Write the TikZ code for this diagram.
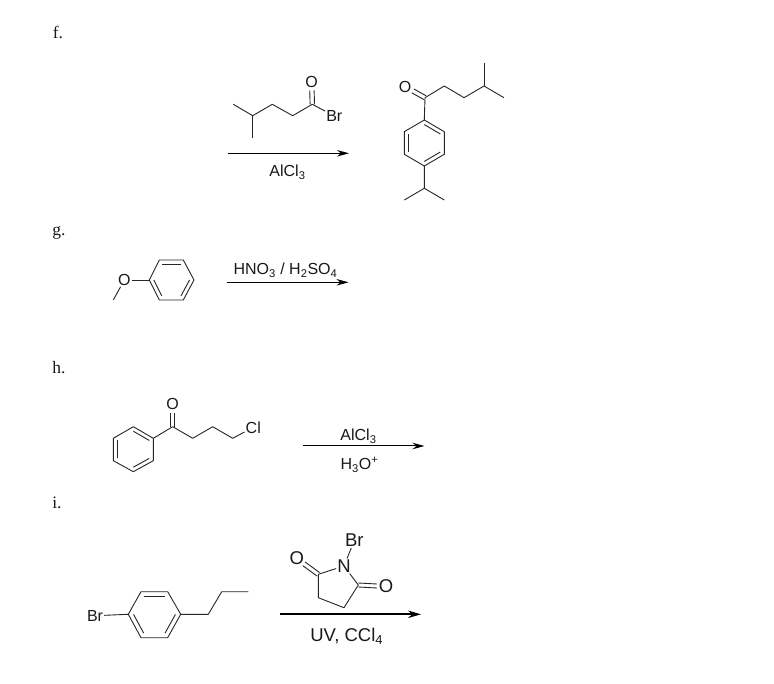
\documentclass[tikz,border=0pt]{standalone}
\usepackage{fontspec}
\setmainfont{Liberation Sans}
\newfontfamily\labelfont{Liberation Serif}
\usetikzlibrary{calc,arrows.meta}
\newcommand{\ringbond}[3]{\draw[bond] ($(#1)!.8!(#2)$) -- ($(#1)!.8!(#3)$);}
% double bond from carbon #1 to oxygen node #2: two strokes offset by #3,#4
\newcommand{\carbonyl}[4]{%
  \draw[bond] ($($(#2.center)!9pt!(#1)$)+(#3,#4)$) -- ($(#1)+(#3,#4)$);
  \draw[bond] ($($(#2.center)!9pt!(#1)$)+(-#3,-#4)$) -- ($(#1)+(-#3,-#4)$);}
\tikzset{
  bond/.style={draw=black!85,line width=0.9pt,line join=round},
  rxn/.style={draw=black,line width=1pt,-{Stealth[length=12pt,width=6.5pt]}},
  rxnbold/.style={draw=black,line width=1.9pt,-{Stealth[length=13pt,width=7.5pt]}},
  atom/.style={inner sep=1pt,font=\fontsize{16}{16}\selectfont,text=black!90},
  atombig/.style={inner sep=1pt,font=\fontsize{18.5}{18.5}\selectfont,text=black!90},
  reagent/.style={inner sep=0pt,font=\fontsize{16}{16}\selectfont,text=black!90},
  reagentbig/.style={inner sep=0pt,font=\fontsize{18.5}{18.5}\selectfont,text=black!90},
  tag/.style={inner sep=0pt,anchor=base,font=\labelfont\fontsize{17.5}{17.5}\selectfont,text=black!90},
}
\begin{document}
\begin{tikzpicture}[x=1pt,y=-1pt]
\path[use as bounding box,fill=white] (0,0) rectangle (774,684);
% labels
\node[tag] (tf) at (58,39) {f.};
\node[tag] (tg) at (59,236) {g.};
\node[tag] (th) at (59,374) {h.};
\node[tag] (ti) at (57,508) {i.};

% --- f reagent
\coordinate (a1) at (233.3,104.3);
\coordinate (a2) at (252.7,115.7);
\coordinate (a3) at (252.7,138.3);
\coordinate (a4) at (272.3,104.3);
\coordinate (a5) at (292.7,115.7);
\coordinate (a6) at (312.3,104.3);
\node[atom] (aO) at (311.7,81.5) {O};
\node[atom] (aBr) at (334.3,116) {Br};
\draw[bond] (a1)--(a2)--(a4)--(a5)--(a6)--(aBr);
\draw[bond] (a2)--(a3);
\carbonyl{a6}{aO}{2.2}{0}
\coordinate (fs) at (228,153.3);
\coordinate (fe) at (349,153.3);
\draw[rxn] (fs) -- (fe);
\node[reagent] (fr) at (287.5,172) {AlCl\textsubscript{3}};

% --- f product
\node[atom] (bO) at (405,86.5) {O};
\coordinate (b1) at (425,97.7);
\coordinate (b2) at (444.3,86);
\coordinate (b3) at (464,97.7);
\coordinate (b4) at (484,86);
\coordinate (b5) at (484,63.3);
\coordinate (b6) at (504,97.7);
\draw[bond] (b1)--(b2)--(b3)--(b4)--(b6);
\draw[bond] (b4)--(b5);
\carbonyl{b1}{bO}{1.1}{-1.9}
\coordinate (r1) at (424.3,120);
\coordinate (r2) at (444.3,131.7);
\coordinate (r3) at (444.3,154.3);
\coordinate (r4) at (424.3,166);
\coordinate (r5) at (404.3,154.3);
\coordinate (r6) at (404.3,131.7);
\coordinate (rc) at (424.3,143);
\draw[bond] (r1)--(r2)--(r3)--(r4)--(r5)--(r6)--cycle;
\ringbond{rc}{r1}{r2}
\ringbond{rc}{r3}{r4}
\ringbond{rc}{r5}{r6}
\draw[bond] (b1)--(r1);
\coordinate (b7) at (424.3,188.3);
\coordinate (b8) at (404.3,200);
\coordinate (b9) at (444.3,200);
\draw[bond] (r4)--(b7)--(b8);
\draw[bond] (b7)--(b9);

% --- g
\node[atom] (gO) at (124.3,280) {O};
\coordinate (g0) at (113.3,300);
\coordinate (s1) at (149.3,280);
\coordinate (s2) at (159.3,260);
\coordinate (s3) at (183.3,260);
\coordinate (s4) at (194,280);
\coordinate (s5) at (183.3,300);
\coordinate (s6) at (159.3,300);
\coordinate (sc) at (171.6,280);
\draw[bond] (s1)--(s2)--(s3)--(s4)--(s5)--(s6)--cycle;
\ringbond{sc}{s2}{s3}
\ringbond{sc}{s4}{s5}
\ringbond{sc}{s6}{s1}
\draw[bond] (gO)--(s1);
\draw[bond] (gO)--(g0);
\coordinate (gs) at (227.3,282.3);
\coordinate (ge) at (348.5,282.3);
\draw[rxn] (gs) -- (ge);
\node[reagent] (gr) at (285.5,270.5) {HNO\textsubscript{3} / H\textsubscript{2}SO\textsubscript{4}};

% --- h
\coordinate (t1) at (133.3,426.7);
\coordinate (t2) at (153.3,438.3);
\coordinate (t3) at (153.3,460.7);
\coordinate (t4) at (133.3,471.7);
\coordinate (t5) at (113.3,460.7);
\coordinate (t6) at (113.3,438.3);
\coordinate (tc) at (133.3,449.2);
\draw[bond] (t1)--(t2)--(t3)--(t4)--(t5)--(t6)--cycle;
\ringbond{tc}{t1}{t2}
\ringbond{tc}{t3}{t4}
\ringbond{tc}{t5}{t6}
\coordinate (h1) at (172.7,426.7);
\coordinate (h2) at (192.7,438.3);
\coordinate (h3) at (212.7,426.7);
\coordinate (h4) at (232.7,438.3);
\node[atom] (hCl) at (253.3,427.3) {Cl};
\node[atom] (hO) at (172.7,404) {O};
\draw[bond] (t2)--(h1)--(h2)--(h3)--(h4)--(hCl);
\carbonyl{h1}{hO}{2.2}{0}
\coordinate (hs) at (303.3,446);
\coordinate (he) at (424.5,446);
\draw[rxn] (hs) -- (he);
\node[reagent] (hr1) at (358.5,436) {AlCl\textsubscript{3}};
\node[reagent] (hr2) at (359.5,464.5) {H\textsubscript{3}O\textsuperscript{+}};

% --- i
\node[atom] (iBr) at (95,615.7) {Br};
\coordinate (u1) at (128.3,614.3);
\coordinate (u2) at (141,591.7);
\coordinate (u3) at (167.7,591.7);
\coordinate (u4) at (180.7,614.3);
\coordinate (u5) at (167.7,637.7);
\coordinate (u6) at (141,637.7);
\coordinate (uc) at (154.5,614.7);
\draw[bond] (u1)--(u2)--(u3)--(u4)--(u5)--(u6)--cycle;
\ringbond{uc}{u2}{u3}
\ringbond{uc}{u4}{u5}
\ringbond{uc}{u6}{u1}
\draw[bond] (iBr)--(u1);
\coordinate (i1) at (208.3,614.3);
\coordinate (i2) at (221.7,591.7);
\coordinate (i3) at (248.3,591.7);
\draw[bond] (u4)--(i1)--(i2)--(i3);
% NBS
\node[atombig] (nBr) at (354.3,540.5) {Br};
\node[atombig] (nN) at (344,566) {N};
\node[atombig] (nO1) at (296.7,558.5) {O};
\node[atombig] (nO2) at (386,586.5) {O};
\coordinate (n1) at (318.3,574.3);
\coordinate (n2) at (318.3,597.7);
\coordinate (n3) at (344,607.7);
\coordinate (n4) at (358.3,585);
\draw[bond] (nN)--(n1)--(n2)--(n3)--(n4)--(nN);
\draw[bond] (nN)--(nBr);
\carbonyl{n1}{nO1}{1.2}{-1.8}
\carbonyl{n4}{nO2}{0}{2}
\coordinate (is) at (280,614.3);
\coordinate (ie) at (421,614.3);
\draw[rxnbold] (is) -- (ie);
\node[reagentbig] (ir) at (346.7,636.5) {UV, CCl\textsubscript{4}};
\end{tikzpicture}
\end{document}
